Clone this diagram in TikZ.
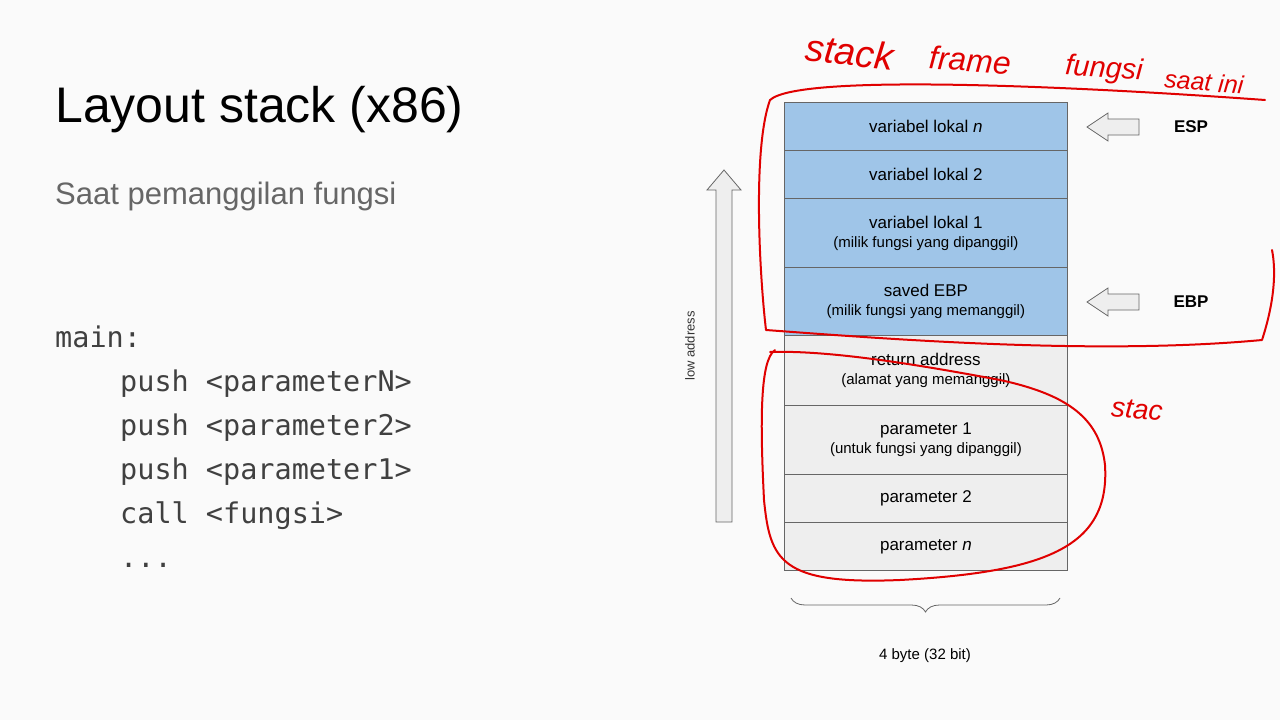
\documentclass[tikz,border=0pt]{standalone}
\usepackage{fontspec}
\setmainfont{Liberation Sans}
\newfontfamily\codefont{DejaVu Sans Mono}
\usetikzlibrary{decorations.pathreplacing}
\definecolor{blu}{HTML}{9FC5E8}
\definecolor{gry}{HTML}{EEEEEE}
\definecolor{edg}{HTML}{666666}
\definecolor{pen}{HTML}{E00000}
\begin{document}
\begin{tikzpicture}[x=1pt,y=-1pt,
  cell/.style={draw=edg,line width=0.8pt,minimum width=283pt,anchor=north west,inner sep=0pt,align=center,font=\fontsize{17}{20}\selectfont},
  arr/.style={draw=edg,fill=gry,line width=0.8pt,line join=miter},
  red/.style={pen,line width=2pt,line cap=round,line join=round},
  hand/.style={pen,inner sep=0pt,font=\itshape},
  code/.style={anchor=base west,inner sep=0pt,font=\codefont\fontsize{28.5}{32}\selectfont,text=black!75}]
\fill[white!98!black] (0,0) rectangle (1280,720);
\useasboundingbox (0,0) rectangle (1280,720);
\node[anchor=base west,inner sep=0pt,font=\fontsize{50}{56}\selectfont] (title) at (55,122) {Layout stack (x86)};
\node[anchor=base west,inner sep=0pt,font=\fontsize{31}{36}\selectfont,text=black!60] (sub) at (55,204) {Saat pemanggilan fungsi};
\node[code] (c1) at (55,347) {main:};
\node[code] (c2) at (120,391) {push <parameterN>};
\node[code] (c3) at (120,435) {push <parameter2>};
\node[code] (c4) at (120,479) {push <parameter1>};
\node[code] (c5) at (120,523) {call <fungsi>};
\node[code] (c6) at (120,567) {...};
\node[cell,fill=blu,minimum height=48pt] (r1) at (784,102) {variabel lokal \textit{n}};
\node[cell,fill=blu,minimum height=48pt] (r2) at (784,150) {variabel lokal 2};
\node[cell,fill=blu,minimum height=69pt] (r3) at (784,198) {variabel lokal 1\\[-1pt]{\fontsize{15}{18}\selectfont(milik fungsi yang dipanggil)}};
\node[cell,fill=blu,minimum height=68pt] (r4) at (784,267) {saved EBP\\[-1pt]{\fontsize{15}{18}\selectfont(milik fungsi yang memanggil)}};
\node[cell,fill=gry,minimum height=70pt] (r5) at (784,335) {return address\\[-1pt]{\fontsize{15}{18}\selectfont(alamat yang memanggil)}};
\node[cell,fill=gry,minimum height=69pt] (r6) at (784,405) {parameter 1\\[-1pt]{\fontsize{15}{18}\selectfont(untuk fungsi yang dipanggil)}};
\node[cell,fill=gry,minimum height=48pt] (r7) at (784,474) {parameter 2};
\node[cell,fill=gry,minimum height=48pt] (r8) at (784,522) {parameter \textit{n}};
\draw[arr] (716,522) -- (716,190) -- (707,190) -- (724,170) -- (741,190) -- (732,190) -- (732,522) -- cycle;
\node[rotate=90,font=\fontsize{13}{15}\selectfont,text=black!80] (low) at (690,346) {low address};
\draw[arr] (1139,119) -- (1108,119) -- (1108,113) -- (1087,127) -- (1108,141) -- (1108,135) -- (1139,135) -- cycle;
\draw[arr] (1139,294) -- (1108,294) -- (1108,288) -- (1087,302) -- (1108,316) -- (1108,310) -- (1139,310) -- cycle;
\node[font=\bfseries\fontsize{17}{20}\selectfont] (esp) at (1191,127) {ESP};
\node[font=\bfseries\fontsize{17}{20}\selectfont] (ebp) at (1191,302) {EBP};
\coordinate (bl) at (791,598); \coordinate (br) at (1060,598);
\draw[edg,line width=0.8pt,decorate,decoration={brace,mirror,amplitude=14pt}] (bl) -- (br);
\node[font=\fontsize{15}{18}\selectfont] (bw) at (925,656) {4 byte (32 bit)};
\node[hand,font=\itshape\fontsize{38}{40}\selectfont,rotate=-6] (h1) at (850,52) {stack};
\node[hand,font=\itshape\fontsize{32}{36}\selectfont,rotate=-4] (h2) at (970,60) {frame};
\node[hand,font=\itshape\fontsize{29}{34}\selectfont,rotate=-4] (h3) at (1104,70) {fungsi};
\node[hand,font=\itshape\fontsize{25}{30}\selectfont,rotate=-5] (h4) at (1204,82) {saat ini};
\node[hand,font=\itshape\fontsize{28}{30}\selectfont,rotate=-5] (h5) at (1137,410) {stac};
\draw[red] (1265,100) .. controls (1100,88) and (800,72) .. (770,100)
  .. controls (752,150) and (760,280) .. (766,330)
  .. controls (900,340) and (1100,355) .. (1262,340)
  .. controls (1275,300) and (1276,270) .. (1272,250);
\draw[red] (775,350) .. controls (760,360) and (760,420) .. (764,500)
  .. controls (770,560) and (780,585) .. (900,580)
  .. controls (1050,572) and (1110,545) .. (1105,465)
  .. controls (1100,420) and (1070,395) .. (1000,380)
  .. controls (920,365) and (830,350) .. (770,352);
\end{tikzpicture}
\end{document}
